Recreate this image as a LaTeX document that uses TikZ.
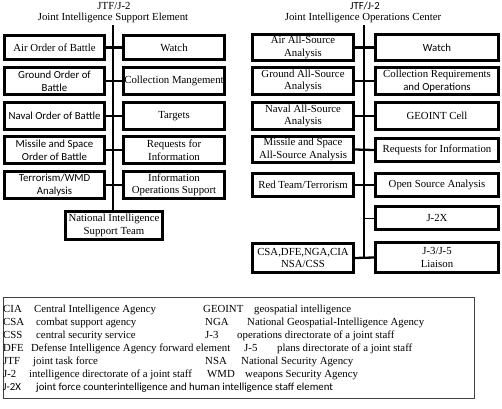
\documentclass[tikz,border=0pt]{standalone}
\usepackage{fontspec}
\setmainfont{Liberation Serif}
\newfontfamily\sansc{Carlito}
\newcommand\mybox[6]{\node[box, minimum width={#4-#2-2.6}, minimum height={#5-#3-2.6}] (#1) at ({(#2+#4)/2},{(#3+#5)/2}) {#6};}
\begin{document}
\begin{tikzpicture}[x=1pt,y=-1pt,
  box/.style={draw, line width=2.6pt, inner sep=0pt, align=center, font=\fontsize{10.8}{12.6}\selectfont},
  conn/.style={line width=2.3pt},
  spine/.style={line width=2.6pt},
  thinconn/.style={line width=0.9pt},
  ttl/.style={font=\fontsize{10.8}{13}\selectfont, inner sep=0pt},
  leg/.style={anchor=base west, inner sep=0pt, font=\fontsize{10.8}{13}\selectfont},
  legs/.style={anchor=base west, inner sep=0pt, font=\fontsize{10.8}{13}\sansc}]
\useasboundingbox (0,0) rectangle (502,408);

% ---------- left chart ----------
\node[ttl] (t1a) at (114,6) {JTF/J-2};
\node[ttl] (t1b) at (113,18) {Joint Intelligence Support Element};
\coordinate (s1) at (113,25);

\mybox{airL}{3}{34}{106}{61}{Air Order of Battle}
\mybox{grdL}{3}{66}{106}{96}{\sansc Ground Order of\\\sansc Battle}
\mybox{navL}{3}{101}{106}{131}{\sansc Naval Order of Battle}
\mybox{misL}{3}{135}{106}{165}{\sansc Missile and Space\\\sansc Order of Battle}
\mybox{terL}{3}{170}{106}{200}{\sansc Terrorism/WMD\\\sansc Analysis}

\mybox{watL}{122}{34}{226}{61}{Watch}
\mybox{colL}{122}{66}{226}{96}{Collection Mangement}
\mybox{tgtL}{122}{101}{226}{131}{Targets}
\mybox{rfiL}{122}{135}{226}{165}{Requests for\\Information}
\mybox{iosL}{122}{170}{226}{200}{Information\\Operations Support}

\mybox{nist}{64}{210}{164}{241}{National Intelligence\\Support Team}

\draw[spine] (s1) -- (s1 |- nist.north);
\draw[conn] (airL.east) -- (watL.west);
\draw[conn] (grdL.east) -- (colL.west);
\draw[conn] (navL.east) -- (tgtL.west);
\draw[conn] (misL.east) -- (rfiL.west);
\draw[conn] (terL.east) -- (iosL.west);

% ---------- right chart ----------
\node[ttl, font=\fontsize{10.8}{13}\sansc] (t2a) at (365,6) {JTF/J-2};
\node[ttl] (t2b) at (363,18) {Joint Intelligence Operations Center};
\coordinate (s2) at (364,25);

\mybox{airR}{251}{33}{355}{62}{Air All-Source\\Analysis}
\mybox{grdR}{251}{66}{355}{96}{Ground All-Source\\Analysis}
\mybox{navR}{251}{101}{355}{131}{Naval All-Source\\Analysis}
\mybox{misR}{251}{135}{355}{164}{Missile and Space\\All-Source Analysis}
\mybox{redR}{251}{172}{355}{198}{Red Team/Terrorism}
\mybox{csaR}{251}{242}{355}{274}{CSA,DFE,NGA,CIA\\NSA/CSS}

\mybox{watR}{374}{33}{500}{62}{\sansc Watch}
\mybox{colR}{374}{66}{500}{96}{Collection Requirements\\\sansc and Operations}
\mybox{geoR}{374}{101}{500}{131}{GEOINT Cell}
\mybox{rfiR}{374}{137}{500}{163}{Requests for Information}
\mybox{osaR}{374}{172}{500}{198}{Open Source Analysis}
\mybox{jtxR}{374}{205}{500}{231}{J-2X}
\mybox{jtfR}{374}{241}{500}{274}{J-3/J-5\\Liaison}

\draw[spine] (s2) -- (s2 |- csaR.east);
\draw[conn] (airR.east) -- (watR.west);
\draw[conn] (grdR.east) -- (colR.west);
\draw[conn] (navR.east) -- (geoR.west);
\draw[conn] (misR.east) -- (rfiR.west);
\draw[conn] (redR.east) -- (osaR.west);
\draw[conn] (csaR.east) -- (jtfR.west);
\draw[thinconn] (s2 |- jtxR.west) -- (jtxR.west);

% ---------- legend ----------
\node[draw=black!75, line width=0.9pt, minimum width=471pt, minimum height=101pt, inner sep=0pt] (legend) at (238.5,347.5) {};

\node[leg] (a1) at (3,312) {CIA};
\node[leg] (d1) at (34,312) {Central Intelligence Agency};
\node[leg] (a2) at (203,312) {GEOINT};
\node[leg] (e2) at (254,312) {geospatial intelligence};

\node[leg] (b1) at (3,325) {CSA};
\node[leg] (f1) at (36,325) {combat support agency};
\node[leg] (b2) at (205,325) {NGA};
\node[leg] (g2) at (247,325) {National Geospatial-Intelligence Agency};

\node[leg] (c1) at (3,338) {CSS};
\node[leg] (h1) at (36,338) {central security service};
\node[leg] (c2) at (205,338) {J-3};
\node[leg] (i2) at (237,338) {operations directorate of a joint staff};

\node[leg] (k1) at (3,351) {DFE};
\node[leg] (m1) at (31,351) {Defense Intelligence Agency forward element};
\node[leg] (k2) at (244,351) {J-5};
\node[leg] (m2) at (277,351) {plans directorate of a joint staff};

\node[leg] (n1) at (3,364) {JTF};
\node[leg] (o1) at (33,364) {joint task force};
\node[leg] (n2) at (205,364) {NSA};
\node[leg] (o2) at (241,364) {National Security Agency};

\node[leg] (p1) at (3,377) {J-2};
\node[leg] (q1) at (29,377) {intelligence directorate of a joint staff};
\node[leg] (p2) at (207,377) {WMD};
\node[leg] (q2) at (245,377) {weapons Security Agency};

\node[legs] (r1) at (3,390) {J-2X};
\node[legs] (s1l) at (36,390) {joint force counterintelligence and human intelligence staff element};
\end{tikzpicture}
\end{document}
